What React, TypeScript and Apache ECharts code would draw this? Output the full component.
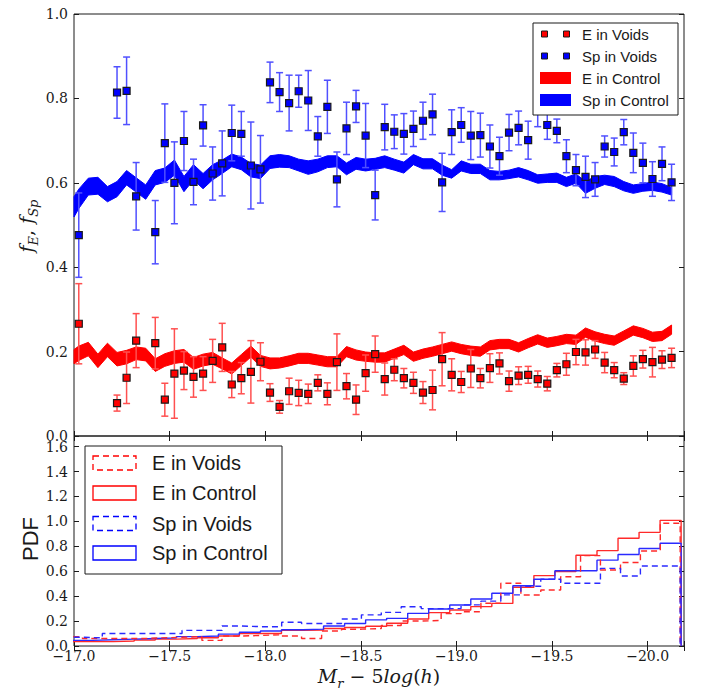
import React, { useEffect, useRef } from "react";
import * as echarts from "echarts";

// ---- Void galaxy fractions (points with error bars) ----
const voidMag = [
  -17.025, -17.225, -17.275, -17.325, -17.425, -17.475, -17.525, -17.575, -17.625, -17.675,
  -17.725, -17.775, -17.825, -17.875, -17.925, -17.975, -18.025, -18.075, -18.125, -18.175,
  -18.225, -18.275, -18.325, -18.375, -18.425, -18.475, -18.525, -18.575, -18.625, -18.675,
  -18.725, -18.775, -18.825, -18.875, -18.925, -18.975, -19.025, -19.075, -19.125, -19.175,
  -19.225, -19.275, -19.325, -19.375, -19.425, -19.475, -19.525, -19.575, -19.625, -19.675,
  -19.725, -19.775, -19.825, -19.875, -19.925, -19.975, -20.025, -20.075, -20.125,
];
const spVoidFrac = [
  0.476, 0.814, 0.818, 0.568, 0.483, 0.694, 0.6, 0.699, 0.602, 0.736,
  0.622, 0.646, 0.718, 0.716, 0.641, 0.632, 0.838, 0.815, 0.789, 0.817,
  0.795, 0.71, 0.78, 0.608, 0.729, 0.781, 0.712, 0.571, 0.732, 0.721,
  0.716, 0.728, 0.747, 0.762, 0.601, 0.72, 0.737, 0.712, 0.713, 0.686,
  0.663, 0.719, 0.73, 0.701, 0.78, 0.737, 0.723, 0.663, 0.63, 0.614,
  0.608, 0.686, 0.673, 0.72, 0.671, 0.647, 0.609, 0.645, 0.601,
];
const spVoidErr = [
  0.1, 0.061, 0.08, 0.08, 0.075, 0.093, 0.097, 0.07, 0.054, 0.049,
  0.063, 0.077, 0.066, 0.053, 0.103, 0.08, 0.048, 0.046, 0.066, 0.038,
  0.071, 0.047, 0.063, 0.065, 0.062, 0.038, 0.076, 0.059, 0.054, 0.04,
  0.048, 0.042, 0.044, 0.048, 0.069, 0.053, 0.041, 0.057, 0.052, 0.051,
  0.045, 0.043, 0.04, 0.045, 0.047, 0.034, 0.028, 0.039, 0.037, 0.049,
  0.04, 0.025, 0.033, 0.03, 0.047, 0.047, 0.041, 0.04, 0.043,
];
const eVoidFrac = [
  0.266, 0.078, 0.138, 0.226, 0.22, 0.086, 0.148, 0.155, 0.14, 0.148,
  0.178, 0.21, 0.122, 0.137, 0.152, 0.176, 0.103, 0.069, 0.106, 0.102,
  0.1, 0.126, 0.1, 0.175, 0.118, 0.086, 0.149, 0.194, 0.135, 0.157,
  0.137, 0.126, 0.103, 0.109, 0.182, 0.145, 0.128, 0.16, 0.137, 0.161,
  0.172, 0.13, 0.143, 0.145, 0.135, 0.124, 0.156, 0.17, 0.199, 0.198,
  0.205, 0.174, 0.156, 0.136, 0.166, 0.182, 0.175, 0.181, 0.185,
];
const eVoidErr = [
  0.095, 0.019, 0.061, 0.064, 0.061, 0.039, 0.106, 0.045, 0.048, 0.04,
  0.051, 0.057, 0.031, 0.037, 0.074, 0.045, 0.021, 0.015, 0.031, 0.03,
  0.023, 0.019, 0.026, 0.067, 0.03, 0.035, 0.043, 0.043, 0.038, 0.026,
  0.023, 0.025, 0.026, 0.047, 0.063, 0.038, 0.025, 0.045, 0.023, 0.034,
  0.025, 0.024, 0.021, 0.02, 0.019, 0.017, 0.016, 0.026, 0.03, 0.03,
  0.021, 0.024, 0.018, 0.014, 0.024, 0.021, 0.035, 0.021, 0.023,
];

// ---- Control sample fractions (shaded bands: centre and half-width) ----
const ctrlMag = [
  -17.0, -17.025, -17.075, -17.125, -17.175, -17.225, -17.275, -17.325, -17.375, -17.425,
  -17.475, -17.525, -17.575, -17.625, -17.675, -17.725, -17.775, -17.825, -17.875, -17.925,
  -17.975, -18.025, -18.075, -18.125, -18.175, -18.225, -18.275, -18.325, -18.375, -18.425,
  -18.475, -18.525, -18.575, -18.625, -18.675, -18.725, -18.775, -18.825, -18.875, -18.925,
  -18.975, -19.025, -19.075, -19.125, -19.175, -19.225, -19.275, -19.325, -19.375, -19.425,
  -19.475, -19.525, -19.575, -19.625, -19.675, -19.725, -19.775, -19.825, -19.875, -19.925,
  -19.975, -20.025, -20.075, -20.125,
];
const spCtrlFrac = [
  0.543, 0.562, 0.591, 0.593, 0.573, 0.585, 0.612, 0.595, 0.578, 0.612,
  0.618, 0.636, 0.597, 0.625, 0.604, 0.625, 0.638, 0.653, 0.646, 0.63,
  0.626, 0.649, 0.652, 0.65, 0.642, 0.636, 0.641, 0.65, 0.651, 0.633,
  0.646, 0.642, 0.645, 0.65, 0.643, 0.636, 0.655, 0.645, 0.645, 0.63,
  0.621, 0.64, 0.633, 0.633, 0.618, 0.617, 0.62, 0.625, 0.618, 0.609,
  0.611, 0.612, 0.602, 0.61, 0.589, 0.601, 0.607, 0.603, 0.592, 0.585,
  0.589, 0.592, 0.588, 0.58,
];
const spCtrlHalf = [
  0.024, 0.023, 0.02, 0.02, 0.018, 0.018, 0.017, 0.017, 0.017, 0.017,
  0.017, 0.018, 0.018, 0.018, 0.018, 0.018, 0.016, 0.015, 0.015, 0.016,
  0.016, 0.015, 0.015, 0.014, 0.014, 0.016, 0.015, 0.014, 0.013, 0.014,
  0.014, 0.014, 0.013, 0.014, 0.013, 0.013, 0.012, 0.012, 0.012, 0.012,
  0.01, 0.012, 0.011, 0.011, 0.011, 0.01, 0.01, 0.011, 0.011, 0.01,
  0.01, 0.011, 0.011, 0.011, 0.014, 0.014, 0.011, 0.012, 0.011, 0.01,
  0.009, 0.01, 0.01, 0.009,
];
const eCtrlFrac = [
  0.188, 0.196, 0.206, 0.178, 0.204, 0.182, 0.187, 0.196, 0.193, 0.168,
  0.18, 0.187, 0.19, 0.172, 0.18, 0.184, 0.172, 0.16, 0.18, 0.2,
  0.178, 0.172, 0.173, 0.178, 0.184, 0.184, 0.18, 0.176, 0.176, 0.2,
  0.192, 0.188, 0.186, 0.186, 0.195, 0.204, 0.188, 0.195, 0.2, 0.206,
  0.212, 0.206, 0.202, 0.2, 0.215, 0.218, 0.218, 0.21, 0.22, 0.229,
  0.221, 0.225, 0.23, 0.228, 0.245, 0.236, 0.23, 0.226, 0.238, 0.25,
  0.244, 0.235, 0.237, 0.252,
];
const eCtrlHalf = [
  0.017, 0.017, 0.016, 0.016, 0.016, 0.016, 0.016, 0.015, 0.015, 0.015,
  0.015, 0.015, 0.015, 0.014, 0.014, 0.014, 0.013, 0.013, 0.013, 0.013,
  0.013, 0.013, 0.012, 0.012, 0.012, 0.012, 0.012, 0.012, 0.012, 0.012,
  0.012, 0.011, 0.011, 0.011, 0.011, 0.011, 0.011, 0.011, 0.011, 0.011,
  0.011, 0.011, 0.011, 0.011, 0.011, 0.011, 0.011, 0.011, 0.011, 0.011,
  0.011, 0.011, 0.011, 0.011, 0.011, 0.011, 0.011, 0.011, 0.011, 0.011,
  0.011, 0.011, 0.011, 0.011,
];

// ---- Luminosity PDFs (step histograms) ----
const ctrlEdges = [
  -16.985, -17.095, -17.205, -17.315, -17.425, -17.535, -17.645, -17.755, -17.865, -17.975,
  -18.085, -18.195, -18.305, -18.415, -18.525, -18.635, -18.745, -18.855, -18.965, -19.075,
  -19.185, -19.295, -19.405, -19.515, -19.625, -19.735, -19.845, -19.955, -20.065, -20.175,
];
const eCtrlPdf = [
  0.035, 0.035, 0.04, 0.048, 0.055, 0.06, 0.066, 0.08, 0.1, 0.1,
  0.125, 0.128, 0.14, 0.148, 0.158, 0.182, 0.217, 0.268, 0.289, 0.316,
  0.342, 0.471, 0.565, 0.597, 0.728, 0.765, 0.864, 0.912, 1.008,
];
const spCtrlPdf = [
  0.045, 0.05, 0.055, 0.06, 0.065, 0.075, 0.08, 0.095, 0.11, 0.12,
  0.13, 0.135, 0.16, 0.18, 0.21, 0.222, 0.262, 0.297, 0.329, 0.377,
  0.423, 0.484, 0.535, 0.604, 0.604, 0.689, 0.734, 0.782, 0.824,
];
const voidEdges = [
  -16.94, -17.044, -17.148, -17.253, -17.357, -17.461, -17.565, -17.669, -17.774, -17.878,
  -17.982, -18.086, -18.19, -18.295, -18.399, -18.503, -18.607, -18.711, -18.816, -18.92,
  -19.024, -19.128, -19.232, -19.337, -19.441, -19.545, -19.649, -19.753, -19.858, -19.962,
  -20.066, -20.17,
];
const eVoidPdf = [
  0.075, 0.06, 0.06, 0.06, 0.065, 0.07, 0.075, 0.045, 0.08, 0.085,
  0.09, 0.08, 0.06, 0.12, 0.135, 0.14, 0.165, 0.2, 0.205, 0.26,
  0.275, 0.343, 0.503, 0.409, 0.449, 0.556, 0.725, 0.61, 0.67, 0.762,
  0.985,
];
const spVoidPdf = [
  0.07, 0.065, 0.1, 0.1, 0.1, 0.1, 0.125, 0.125, 0.16, 0.155,
  0.155, 0.19, 0.18, 0.18, 0.217, 0.25, 0.27, 0.315, 0.3, 0.3,
  0.33, 0.36, 0.41, 0.48, 0.535, 0.503, 0.503, 0.623, 0.562, 0.642,
  0.642,
];

const MAG_MIN = -20.19;
const MAG_MAX = -17.0;

const RED = "#ff0000";
const BLUE = "#0000ff";
const RED_BAR = "#ff5050";
const BLUE_BAR = "#5050ff";
const INK = "#1a1a1a";
const SERIF = "'DejaVu Serif', serif";
const SANS = "'Liberation Sans', Arial, sans-serif";

function bandRenderer(mag: number[], center: number[], half: number[], color: string) {
  return (params: any, api: any) => {
    if (params.dataIndex !== 0) return null;
    const n = Math.min(mag.length, center.length, half.length);
    const upper: number[][] = [];
    const lower: number[][] = [];
    for (let i = 0; i < n; i++) {
      upper.push(api.coord([mag[i], center[i] + half[i]]));
      lower.push(api.coord([mag[i], center[i] - half[i]]));
    }
    return {
      type: "polygon",
      shape: { points: upper.concat(lower.reverse()) },
      style: { fill: color, stroke: color, lineWidth: 1 },
    };
  };
}

function errorBarRenderer(color: string) {
  return (_params: any, api: any) => {
    const x = api.value(0);
    const lo = api.coord([x, api.value(1)]);
    const hi = api.coord([x, api.value(2)]);
    const cap = 3.5;
    const style = { stroke: color, lineWidth: 1.5 };
    return {
      type: "group",
      children: [
        { type: "line", shape: { x1: lo[0], y1: lo[1], x2: hi[0], y2: hi[1] }, style },
        { type: "line", shape: { x1: lo[0] - cap, y1: lo[1], x2: lo[0] + cap, y2: lo[1] }, style },
        { type: "line", shape: { x1: hi[0] - cap, y1: hi[1], x2: hi[0] + cap, y2: hi[1] }, style },
      ],
    };
  };
}

function stepPoints(edges: number[], heights: number[]) {
  const n = Math.min(heights.length, edges.length - 1);
  const pts: number[][] = [[edges[0], 0]];
  for (let i = 0; i < n; i++) {
    pts.push([edges[i], heights[i]]);
    pts.push([edges[i + 1], heights[i]]);
  }
  pts.push([edges[n], 0]);
  return pts;
}

function isMultiple(v: number, step: number) {
  const r = v / step;
  return Math.abs(r - Math.round(r)) < 1e-6;
}

function fmtNum(v: number, step: number) {
  if (!isMultiple(v, step)) return "";
  const s = Math.abs(v).toFixed(1);
  return v < -1e-9 ? "\u2212" + s : s;
}

export default function App() {
  const ref = useRef<HTMLDivElement>(null);

  useEffect(() => {
    if (!ref.current) return;
    const chart = echarts.init(ref.current, undefined, { renderer: "svg" });

    const tick = { show: true, inside: true, length: 5, lineStyle: { color: INK, width: 1 } };
    const labelStyle = { fontFamily: SERIF, fontSize: 14, color: INK };

    const magAxis = (gridIndex: number, position: string, labels: boolean) => ({
      type: "value",
      gridIndex,
      position,
      min: MAG_MIN,
      max: MAG_MAX,
      splitNumber: 6,
      inverse: true,
      axisLine: { show: false },
      axisTick: tick,
      splitLine: { show: false },
      axisLabel: labels
        ? { show: true, margin: 3, ...labelStyle, formatter: (v: number) => fmtNum(v, 0.5) }
        : { show: false },
    });

    const valAxis = (gridIndex: number, position: string, max: number, labels: boolean) => ({
      type: "value",
      gridIndex,
      position,
      min: 0,
      max,
      interval: 0.2,
      axisLine: { show: false },
      axisTick: tick,
      splitLine: { show: false },
      axisLabel: labels
        ? { show: true, margin: 6, ...labelStyle, formatter: (v: number) => fmtNum(v, 0.2) }
        : { show: false },
    });

    const bandData = (c: number[], h: number[]) =>
      ctrlMag.map((m, i) => [m, c[i] - h[i], c[i] + h[i]]);
    const errData = (f: number[], e: number[]) =>
      voidMag.map((m, i) => [m, f[i] - e[i], f[i] + e[i]]);
    const ptData = (f: number[]) => voidMag.map((m, i) => [m, f[i]]);

    const histLine = (data: number[][], color: string, dashed: boolean) => ({
      type: "line",
      xAxisIndex: 2,
      yAxisIndex: 2,
      data,
      symbol: "none",
      silent: true,
      clip: true,
      lineStyle: { color, width: 1.4, type: dashed ? [6, 4] : "solid" },
      z: 3,
    });

    const legendZ = 50;
    const topLegend: any[] = [
      {
        type: "rect",
        z: legendZ,
        shape: { x: 533, y: 23, width: 145, height: 92 },
        style: { fill: "#ffffff", stroke: INK, lineWidth: 1 },
      },
    ];
    const topRows = [
      { label: "E in Voids", kind: "pt", color: RED, y: 34 },
      { label: "Sp in Voids", kind: "pt", color: BLUE, y: 56 },
      { label: "E in Control", kind: "bar", color: RED, y: 78 },
      { label: "Sp in Control", kind: "bar", color: BLUE, y: 100 },
    ];
    topRows.forEach((r) => {
      if (r.kind === "pt") {
        [544.5, 566.5].forEach((cx) =>
          topLegend.push({
            type: "rect",
            z: legendZ,
            shape: { x: cx - 3, y: r.y - 3, width: 6, height: 6 },
            style: { fill: r.color, stroke: INK, lineWidth: 1 },
          })
        );
      } else {
        topLegend.push({
          type: "rect",
          z: legendZ,
          shape: { x: 540, y: r.y - 6, width: 31, height: 12 },
          style: { fill: r.color },
        });
      }
      topLegend.push({
        type: "text",
        z: legendZ,
        x: 582,
        y: r.y,
        style: {
          text: r.label,
          fontFamily: SANS,
          fontSize: 15,
          fill: INK,
          align: "left",
          verticalAlign: "middle",
        },
      });
    });

    const bottomLegend: any[] = [
      {
        type: "rect",
        z: legendZ,
        shape: { x: 85, y: 446, width: 197, height: 128 },
        style: { fill: "#ffffff", stroke: INK, lineWidth: 1 },
      },
    ];
    const bottomRows = [
      { label: "E in Voids", color: RED, dashed: true, y: 463 },
      { label: "E in Control", color: RED, dashed: false, y: 493 },
      { label: "Sp in Voids", color: BLUE, dashed: true, y: 523.5 },
      { label: "Sp in Control", color: BLUE, dashed: false, y: 553 },
    ];
    bottomRows.forEach((r) => {
      bottomLegend.push({
        type: "rect",
        z: legendZ,
        shape: { x: 93, y: r.y - 7, width: 43, height: 14 },
        style: {
          fill: "none",
          stroke: r.color,
          lineWidth: 1.3,
          lineDash: r.dashed ? [6, 4] : null,
        },
      });
      bottomLegend.push({
        type: "text",
        z: legendZ,
        x: 152,
        y: r.y,
        style: {
          text: r.label,
          fontFamily: SANS,
          fontSize: 20,
          fill: INK,
          align: "left",
          verticalAlign: "middle",
        },
      });
    });

    const mathRich = (size: number) => ({
      i: { fontFamily: SERIF, fontStyle: "italic", fontSize: size, lineHeight: size + 8, fill: INK, verticalAlign: "middle" },
      n: { fontFamily: SERIF, fontSize: size, lineHeight: size + 8, fill: INK, verticalAlign: "middle" },
      s: {
        fontFamily: SERIF,
        fontStyle: "italic",
        fontSize: Math.round(size * 0.68),
        lineHeight: Math.round(size * 0.68),
        fill: INK,
        verticalAlign: "bottom",
      },
    });

    const labels: any[] = [
      {
        type: "text",
        z: legendZ,
        x: 26,
        y: 226,
        rotation: Math.PI / 2,
        style: {
          text: "{i|f}{s|E}{n|, }{i|f}{s|Sp}",
          rich: mathRich(19),
          align: "center",
          verticalAlign: "middle",
        },
      },
      {
        type: "text",
        z: legendZ,
        x: 379,
        y: 676,
        style: {
          text: "{i|M}{s|r}{n| \u2212 5}{i|log}{n|(}{i|h}{n|)}",
          rich: mathRich(19),
          align: "center",
          verticalAlign: "middle",
        },
      },
      {
        type: "text",
        z: legendZ,
        x: 30,
        y: 539,
        rotation: Math.PI / 2,
        style: {
          text: "PDF",
          fontFamily: SANS,
          fontSize: 22,
          fill: INK,
          align: "center",
          verticalAlign: "middle",
        },
      },
    ];

    const option: any = {
      animation: false,
      backgroundColor: "#ffffff",
      grid: [
        { left: 74, top: 14, width: 610, height: 422, show: true, borderColor: INK, borderWidth: 1, backgroundColor: "transparent" },
        { left: 74, top: 436, width: 610, height: 210, show: true, borderColor: INK, borderWidth: 1, backgroundColor: "transparent" },
      ],
      xAxis: [
        magAxis(0, "bottom", false),
        magAxis(0, "top", false),
        magAxis(1, "bottom", true),
        magAxis(1, "top", false),
      ],
      yAxis: [
        valAxis(0, "left", 1.0, true),
        valAxis(0, "right", 1.0, false),
        valAxis(1, "left", 1.685, true),
        valAxis(1, "right", 1.685, false),
      ],
      series: [
        {
          type: "custom",
          name: "E in Control",
          xAxisIndex: 0,
          yAxisIndex: 0,
          data: bandData(eCtrlFrac, eCtrlHalf),
          encode: { x: 0, y: [1, 2] },
          renderItem: bandRenderer(ctrlMag, eCtrlFrac, eCtrlHalf, RED),
          silent: true,
          z: 1,
        },
        {
          type: "custom",
          name: "Sp in Control",
          xAxisIndex: 0,
          yAxisIndex: 0,
          data: bandData(spCtrlFrac, spCtrlHalf),
          encode: { x: 0, y: [1, 2] },
          renderItem: bandRenderer(ctrlMag, spCtrlFrac, spCtrlHalf, BLUE),
          silent: true,
          z: 1,
        },
        {
          type: "custom",
          name: "E in Voids err",
          xAxisIndex: 0,
          yAxisIndex: 0,
          data: errData(eVoidFrac, eVoidErr),
          encode: { x: 0, y: [1, 2] },
          renderItem: errorBarRenderer(RED_BAR),
          silent: true,
          z: 2,
        },
        {
          type: "custom",
          name: "Sp in Voids err",
          xAxisIndex: 0,
          yAxisIndex: 0,
          data: errData(spVoidFrac, spVoidErr),
          encode: { x: 0, y: [1, 2] },
          renderItem: errorBarRenderer(BLUE_BAR),
          silent: true,
          z: 2,
        },
        {
          type: "scatter",
          name: "E in Voids",
          xAxisIndex: 0,
          yAxisIndex: 0,
          data: ptData(eVoidFrac),
          symbol: "rect",
          symbolSize: 7,
          itemStyle: { color: RED, borderColor: INK, borderWidth: 1.2, opacity: 1 },
          silent: true,
          z: 3,
        },
        {
          type: "scatter",
          name: "Sp in Voids",
          xAxisIndex: 0,
          yAxisIndex: 0,
          data: ptData(spVoidFrac),
          symbol: "rect",
          symbolSize: 7,
          itemStyle: { color: BLUE, borderColor: INK, borderWidth: 1.2, opacity: 1 },
          silent: true,
          z: 3,
        },
        histLine(stepPoints(ctrlEdges, eCtrlPdf), "#ff2a2a", false),
        histLine(stepPoints(ctrlEdges, spCtrlPdf), "#2a2aff", false),
        histLine(stepPoints(voidEdges, eVoidPdf), "#ff2a2a", true),
        histLine(stepPoints(voidEdges, spVoidPdf), "#2a2aff", true),
      ],
      graphic: { elements: [...topLegend, ...bottomLegend, ...labels] },
    };

    chart.setOption(option);
    return () => chart.dispose();
  }, []);

  return (
    <div
      ref={ref}
      style={{ position: "fixed", left: 0, top: 0, width: 702, height: 698, background: "#fff" }}
    />
  );
}
